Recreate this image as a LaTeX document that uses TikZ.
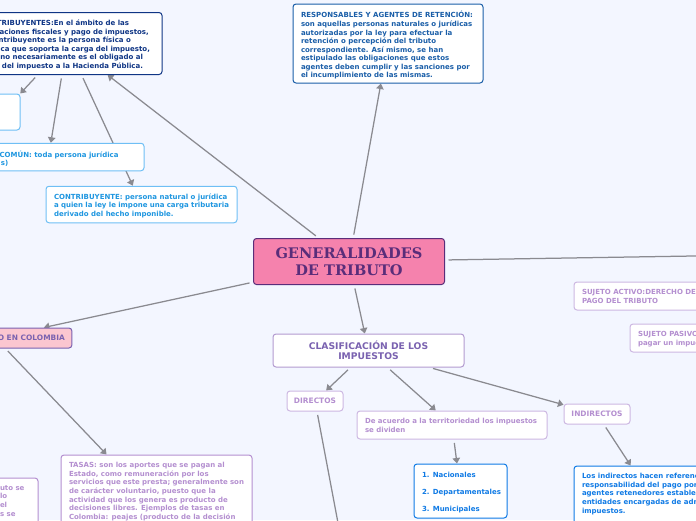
\documentclass[tikz,border=0pt]{standalone}
\usepackage{fontspec}
\setmainfont{DejaVu Sans}
\newfontfamily\titlefont{DejaVu Serif}
\usetikzlibrary{arrows.meta,backgrounds}
\definecolor{bgc}{HTML}{F3F6FF}
\definecolor{linec}{HTML}{8A8A90}
\definecolor{navy}{HTML}{0F3585}
\definecolor{sky}{HTML}{6FBFF5}
\definecolor{skytx}{HTML}{1E96E0}
\definecolor{resp}{HTML}{1A5EA8}
\definecolor{vivid}{HTML}{0F7AE5}
\definecolor{pinkf}{HTML}{F582AD}
\definecolor{plum}{HTML}{5A2D7A}
\definecolor{rosef}{HTML}{FBC6D0}
\definecolor{viol}{HTML}{7A62B0}
\definecolor{violb}{HTML}{B39BD0}
\definecolor{lila}{HTML}{B48FD0}
\definecolor{lilab}{HTML}{CDB8E2}
\newcommand{\mtxt}[3]{\parbox[c][#2pt][t]{#1pt}{\vspace*{2.5pt}\raggedright\fontsize{7}{8.55}\bfseries\selectfont #3}}
\newcommand{\ctxt}[3]{\parbox[c][#2pt][t]{#1pt}{\vspace*{1.5pt}\centering\fontsize{9.2}{10.8}\bfseries\selectfont #3}}
\newcommand{\ltxt}[2]{\parbox[c][10pt][c]{#1pt}{\centering\fontsize{7.45}{8.6}\bfseries\selectfont\makebox[#1pt]{#2}}}
\tikzset{
  bx/.style={draw,fill=white,rounded corners=3pt,inner xsep=8pt,inner ysep=5pt,line width=1pt},
  conn/.style={draw=linec,line width=1.25pt,shorten <=3.5pt,-{Triangle[length=5.5pt,width=7.5pt]}},
  plainconn/.style={draw=linec,line width=1.25pt,shorten <=3.5pt},
}
\begin{document}
\begin{tikzpicture}[x=1pt,y=-1pt]
\useasboundingbox (0,0) rectangle (696,520);
\clip (0,0) rectangle (696,520);
% central
\node[bx,fill=pinkf,draw=plum,text=plum,inner xsep=0pt,inner ysep=0pt] (central) at (349,261.5)
 {\parbox[c][46pt][c]{191pt}{\centering\titlefont\fontsize{14.6}{17}\bfseries\selectfont GENERALIDADES\\DE TRIBUTO}};
% upper
\node[bx,draw=navy,text=navy] (contrib) at (67,43.5)
 {\mtxt{174}{52}{\phantom{CON}TRIBUYENTES:En el ámbito de las\\\phantom{oblig}aciones fiscales y pago de impuestos,\\\phantom{el co}ntribuyente es la persona física o\\\phantom{jurídi}ca que soporta la carga del impuesto,\\\phantom{pero }no necesariamente es el obligado al\\\phantom{pago }del impuesto a la Hacienda Pública.}};
\node[bx,draw=sky,minimum width=34pt,minimum height=36pt,inner sep=0pt] (small) at (3,112) {};
\node[bx,draw=sky,text=skytx] (comun) at (48.5,157)
 {\mtxt{175}{17.5}{\phantom{RÉGIMEN }COMÚN: toda persona jurídica\\\phantom{(sociedade}\hspace{-3pt}s)}};
\node[bx,draw=sky,text=skytx] (contribuyente) at (141.5,204.5)
 {\mtxt{175}{26.5}{CONTRIBUYENTE: persona natural o jurídica\\a quien la ley le impone una carga tributaria\\derivado del hecho imponible.}};
\node[bx,draw=resp,text=resp] (responsables) at (388,43.5)
 {\mtxt{174}{69}{RESPONSABLES Y AGENTES DE RETENCIÓN:\\son aquellas personas naturales o jurídicas\\autorizadas por la ley para efectuar la\\retención o percepción del tributo\\correspondiente. Así mismo, se han\\estipulado las obligaciones que estos\\agentes deben cumplir y las sanciones por\\el incumplimiento de las mismas.}};
% left
\node[bx,fill=rosef,draw=viol,text=viol] (colombia) at (-4.6,338)
 {\ltxt{137}{\phantom{TIPOS DE TRIBUT}O EN COLOMBIA}};
\node[bx,draw=lila,text=lila] (tasas) at (156.5,507)
 {\mtxt{175}{94}{TASAS: son los aportes que se pagan al\\Estado, como remuneración por los\\servicios que este presta; generalmente son\\de carácter voluntario, puesto que la\\actividad que los genera es producto de\\decisiones libres. Ejemplos de tasas en\\Colombia: peajes (producto de la decisión}};
\node[bx,draw=lila,text=lila] (frag) at (15,519)
 {\mtxt{30}{72}{uto se\\lo\\el\\s se}};
% lower middle
\node[bx,draw=violb,text=viol] (clasif) at (368.5,350.5)
 {\ctxt{175}{23}{CLASIFICACIÓN DE LOS\\IMPUESTOS}};
\node[bx,draw=lilab,text=lila] (directos) at (315,401)
 {\ltxt{40}{DIRECTOS}};
\node[bx,draw=lilab,text=lila] (acuerdo) at (452,425)
 {\mtxt{174}{18}{De acuerdo a la territoriedad los impuestos\\se dividen}};
\node[bx,draw=vivid,text=vivid] (nacionales) at (460.5,491)
 {\parbox[c][44pt][t]{77pt}{\vspace*{3pt}\raggedright\fontsize{7}{8.6}\bfseries\selectfont 1. Nacionales\\[8.4pt]\mbox{2. Departamentales}\\[8.4pt]3. Municipales}};
\node[bx,draw=lilab,text=lila] (indirectos) at (597,414)
 {\ltxt{50}{INDIRECTOS}};
\node[bx,draw=vivid,text=vivid] (losind) at (669.5,525)
 {\mtxt{175}{108}{Los indirectos hacen referenc\\responsabilidad del pago por\\agentes retenedores establec\\entidades encargadas de adm\\impuestos.}};
\node[bx,draw=lilab,text=lila] (activo) at (669.5,296)
 {\mtxt{175}{18}{SUJETO ACTIVO:DERECHO DE\\PAGO DEL TRIBUTO}};
\node[bx,draw=lilab,text=lila] (pasivo) at (725.5,338)
 {\mtxt{175}{18}{SUJETO PASIVO\\pagar un impue}};
\coordinate (rightend) at (900,252.7);
\coordinate (downend) at (345,560);
\begin{scope}[on background layer]
\fill[bgc] (0,0) rectangle (696,520);
\draw[conn] (central) -- (contrib);
\draw[conn] (central) -- (responsables);
\draw[plainconn] (central) -- (rightend);
\draw[conn] (central) -- (colombia);
\draw[conn] (central) -- (clasif);
\draw[conn] (contrib) -- (small);
\draw[conn] (contrib) -- (comun);
\draw[conn] (contrib) -- (contribuyente);
\draw[conn] (colombia) -- (tasas);
\draw[conn] (clasif) -- (directos);
\draw[conn] (clasif) -- (acuerdo);
\draw[conn] (clasif) -- (indirectos);
\draw[plainconn] (directos) -- (downend);
\draw[conn] (acuerdo) -- (nacionales);
\draw[conn] (indirectos) -- (losind);
\end{scope}
\end{tikzpicture}
\end{document}
